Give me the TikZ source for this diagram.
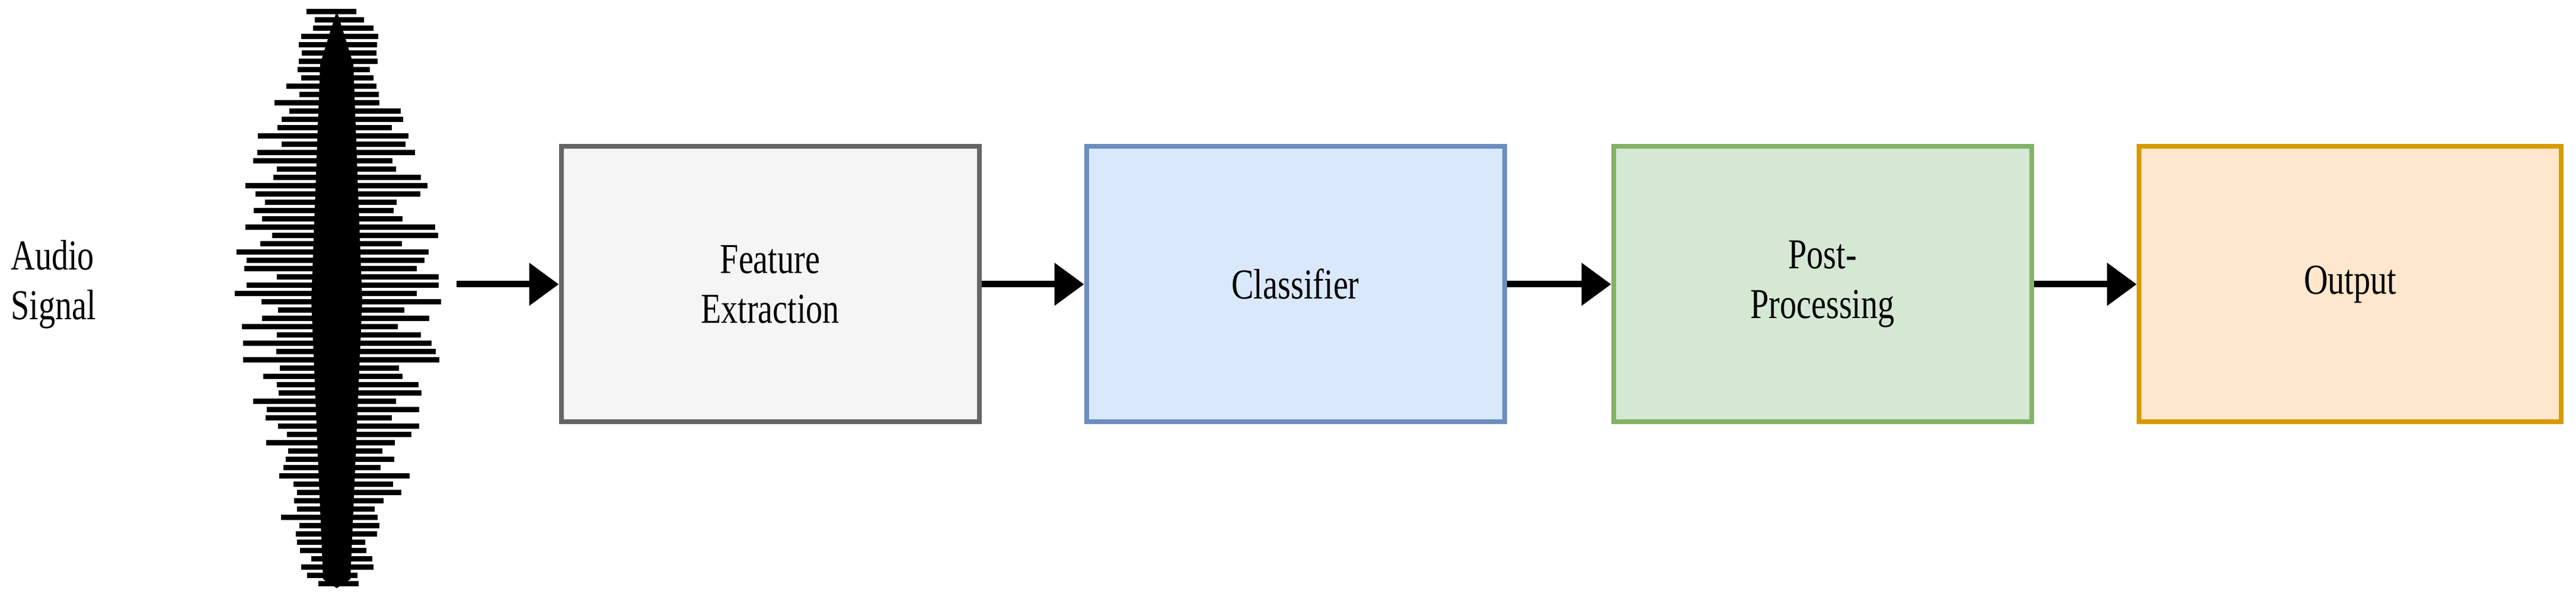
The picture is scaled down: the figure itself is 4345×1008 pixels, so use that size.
\documentclass[tikz,border=0pt]{standalone}
\usepackage{fontspec}
\setmainfont{Liberation Serif}[FakeStretch=0.78]
\usetikzlibrary{arrows.meta}
\definecolor{g1f}{HTML}{F5F5F5}\definecolor{g1d}{HTML}{666666}
\definecolor{b1f}{HTML}{DAE8FC}\definecolor{b1d}{HTML}{6C8EBF}
\definecolor{gr1f}{HTML}{D5E8D4}\definecolor{gr1d}{HTML}{82B366}
\definecolor{o1f}{HTML}{FFE6CC}\definecolor{o1d}{HTML}{D79B00}
\tikzset{
 blk/.style={draw, line width=8pt, minimum width=705pt, minimum height=465pt, align=center, font=\fontsize{72}{84}\selectfont, inner sep=0pt},
 conn/.style={line width=11pt, -{Triangle[length=50pt,width=70pt]}}
}
\begin{document}
\begin{tikzpicture}[x=1pt,y=1pt]
\useasboundingbox (0,0) rectangle (4345,1008);
\fill[white] (0,0) rectangle (4345,1008);
% waveform
\pgfmathsetseed{7}
\fill[black] (568,990) -- (540,900) -- (525,500) -- (545,30) -- (568,15) -- (591,30) -- (611,500) -- (596,900) -- cycle;
\foreach \y in {20,34,...,990}{
  \pgfmathsetmacro{\ang}{(\y-10)*0.1827}
  \pgfmathsetmacro{\env}{50+130*sin(\ang)}
  \pgfmathsetmacro{\wl}{\env*(0.55+0.45*rnd)}
  \pgfmathsetmacro{\wr}{\env*(0.55+0.45*rnd)}
  \draw[line width=9pt] ({568-\wl},{1008-\y}) -- ({568+\wr},{1008-\y});
}
\node[font=\fontsize{72}{84}\selectfont, align=left, anchor=west] (audio) at (15,528) {Audio\\Signal};
\coordinate (src) at (770,528);
\node[blk, fill=g1f, draw=g1d] (fe) at (1299,528) {Feature\\Extraction};
\node[blk, fill=b1f, draw=b1d] (cl) at (2185,528) {Classifier};
\node[blk, fill=gr1f, draw=gr1d] (pp) at (3074,528) {Post-\\Processing};
\node[blk, fill=o1f, draw=o1d, minimum width=712pt] (out) at (3964,528) {Output};
\draw[conn] (src) -- (fe.west);
\draw[conn] (fe.east) -- (cl.west);
\draw[conn] (cl.east) -- (pp.west);
\draw[conn] (pp.east) -- (out.west);
\end{tikzpicture}
\end{document}
